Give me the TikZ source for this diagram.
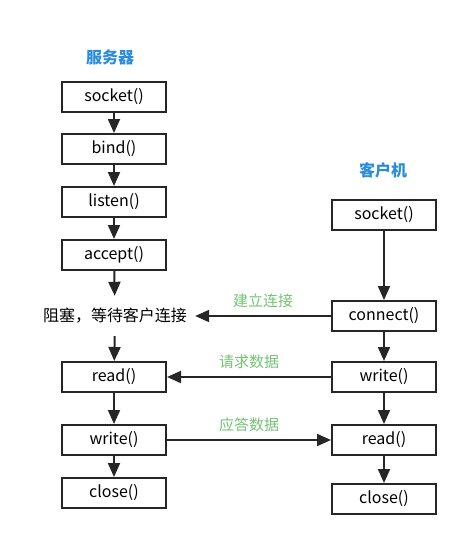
\documentclass[tikz,border=0pt]{standalone}
\usepackage{fontspec}
\setmainfont{Noto Sans CJK SC}
\usetikzlibrary{arrows.meta,positioning}
\definecolor{titleblue}{HTML}{2A8DDB}
\definecolor{labelgreen}{HTML}{74C274}
\definecolor{linegray}{HTML}{262626}
\tikzset{
  func/.style={draw=linegray, line width=2pt, minimum width=104pt, minimum height=30pt, inner sep=0pt, font=\fontsize{16}{19}\selectfont},
  flow/.style={draw=linegray, line width=2pt, -{Triangle[length=14pt,width=12pt]}},
  title/.style={text=titleblue, font=\bfseries\fontsize{16}{19}\selectfont},
  msg/.style={text=labelgreen, font=\fontsize{15}{18}\selectfont}
}
\begin{document}
\begin{tikzpicture}[x=1pt,y=-1pt]
    \useasboundingbox (0,0) rectangle (474,544);
    %titoli
    \node[title] (srv) at (110,57) {服务器};
    \node[title] (cli) at (383,170) {客户机};
    
    %colonna server
    \node[func] (ssocket) at (114,97) {socket()};
    \node[func] (sbind) at (114,149) {bind()};
    \node[func] (slisten) at (114,202) {listen()};
    \node[func] (saccept) at (114,255) {accept()};
    \node[inner xsep=8pt, inner ysep=0pt, minimum height=40pt, font=\fontsize{16}{19}\selectfont] (wait) at (115,316) {阻塞，等待客户连接};
    \node[func] (sread) at (114,377) {read()};
    \node[func] (swrite) at (114,440) {write()};
    \node[func] (sclose) at (114,493) {close()};
    
    %colonna client
    \node[func] (csocket) at (384,215) {socket()};
    \node[func] (cconnect) at (384,316) {connect()};
    \node[func] (cwrite) at (384,377) {write()};
    \node[func] (cread) at (384,440) {read()};
    \node[func] (cclose) at (384,499) {close()};
    
    %frecce server
    \draw[flow] (ssocket) -- (sbind);
    \draw[flow] (sbind) -- (slisten);
    \draw[flow] (slisten) -- (saccept);
    \draw[flow] (saccept) -- (wait);
    \draw[flow] (wait) -- (sread);
    \draw[flow] (sread) -- (swrite);
    \draw[flow] (swrite) -- (sclose);
    
    %frecce client
    \draw[flow] (csocket) -- (cconnect);
    \draw[flow] (cconnect) -- (cwrite);
    \draw[flow] (cwrite) -- (cread);
    \draw[flow] (cread) -- (cclose);
    
    %frecce e label
    \draw[flow] (cconnect) -- (wait) node[msg, midway, above=4pt] {建立连接};
    \draw[flow] (cwrite) -- (sread) node[msg, midway, above=4pt] {请求数据};
    \draw[flow] (swrite) -- (cread) node[msg, midway, above=4pt] {应答数据};
    
\end{tikzpicture}
\end{document}
